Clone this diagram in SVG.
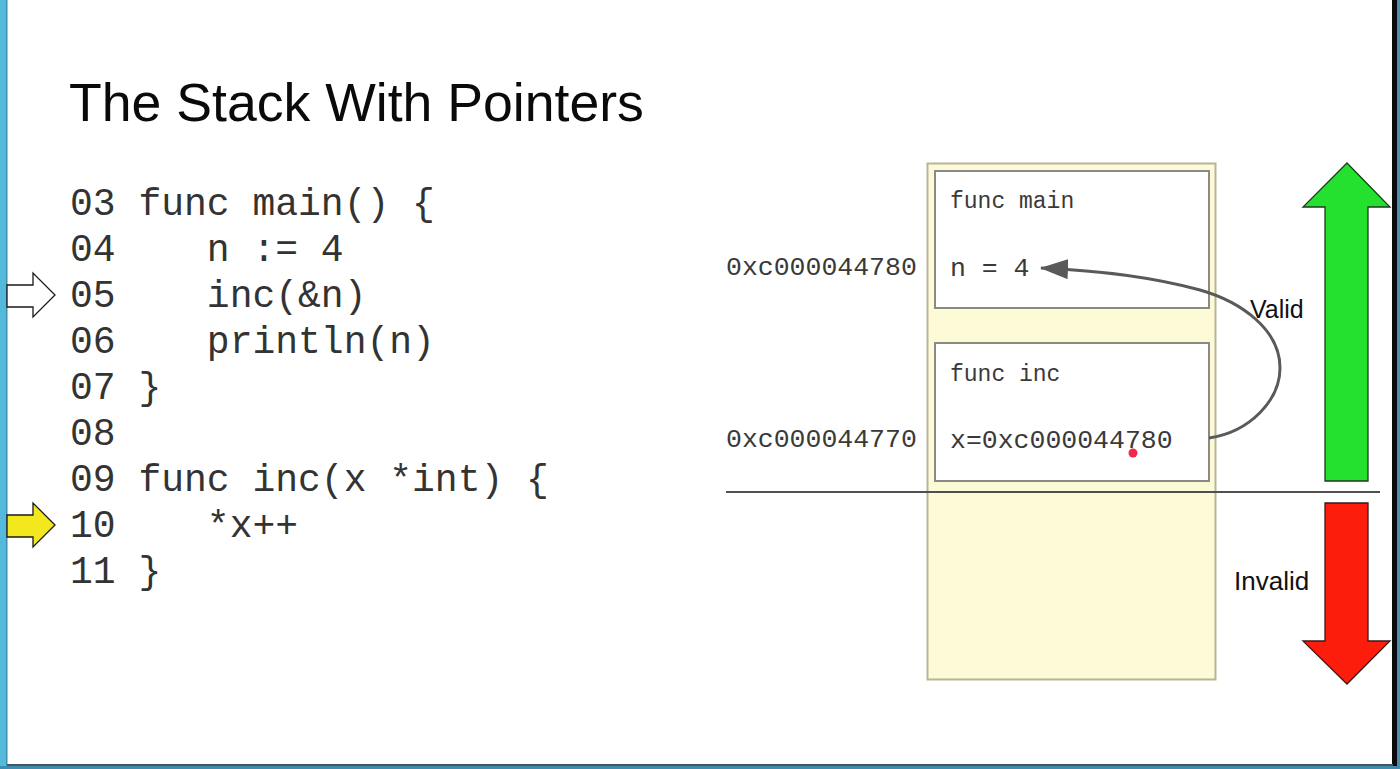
<svg xmlns="http://www.w3.org/2000/svg" width="1400" height="769" viewBox="0 0 1400 769">
<defs>
<style>
.title{font-family:"Liberation Sans",Arial,sans-serif;font-size:53.6px;fill:#0a0a0a}
.code{font-family:"Liberation Mono","Courier New",monospace;font-size:38px;fill:#333333;white-space:pre}
.hdr{font-family:"Liberation Mono","Courier New",monospace;font-size:23px;fill:#3a3a3a}
.val{font-family:"Liberation Mono","Courier New",monospace;font-size:26.5px;fill:#3a3a3a;white-space:pre}
.lbl{font-family:"Liberation Sans",Arial,sans-serif;fill:#111}
.frame{fill:#ffffff;stroke:#8a8a80;stroke-width:2}
.ptr{stroke:#1a1a1a;stroke-width:1.3}
</style>
<marker id="ah" markerUnits="userSpaceOnUse" markerWidth="30" markerHeight="22" refX="27" refY="10" orient="auto">
<path d="M0,0 L28,10 L0,20 Z" fill="#5a5a5a"/>
</marker>
</defs>
<rect x="0" y="0" width="1400" height="769" fill="#ffffff"/>
<rect x="0" y="0" width="7" height="769" fill="#55b9dc"/>
<rect x="6" y="0" width="1.5" height="769" fill="#3d8fb0"/>
<rect x="1392" y="0" width="5" height="769" fill="#0a0a0a"/>
<rect x="1397" y="0" width="3" height="769" fill="#4a90aa"/>
<rect x="7" y="764" width="1386" height="2" fill="#4a5560"/>
<rect x="0" y="766" width="1400" height="3" fill="#3e8db0"/>

<g id="title"><text class="title" x="69" y="121">The Stack With Pointers</text></g>

<g id="code">
<text class="code" x="70" y="215" xml:space="preserve">03 func main() {</text>
<text class="code" x="70" y="261" xml:space="preserve">04    n := 4</text>
<text class="code" x="70" y="307" xml:space="preserve">05    inc(&amp;n)</text>
<text class="code" x="70" y="353" xml:space="preserve">06    println(n)</text>
<text class="code" x="70" y="399" xml:space="preserve">07 }</text>
<text class="code" x="70" y="445" xml:space="preserve">08</text>
<text class="code" x="70" y="491" xml:space="preserve">09 func inc(x *int) {</text>
<text class="code" x="70" y="537" xml:space="preserve">10    *x++</text>
<text class="code" x="70" y="583" xml:space="preserve">11 }</text>
</g>

<g id="ptr-prev"><polygon class="ptr" fill="#ffffff" points="7,285 33,285 33,273 55,295 33,317 33,307 7,307"/></g>
<g id="ptr-current"><polygon class="ptr" fill="#f3e81e" points="7,515 33,515 33,503 55,525 33,547 33,537 7,537"/></g>

<g id="stack"><rect x="927.5" y="163.5" width="288" height="516" fill="#fdfad8" stroke="#b9b495" stroke-width="2"/></g>

<g id="frame-main">
<rect class="frame" x="935" y="171" width="274" height="137"/>
<text class="hdr" x="950" y="208">func main</text>
<text class="val" x="950" y="276" xml:space="preserve">n = 4</text>
</g>

<g id="frame-inc">
<rect class="frame" x="935" y="343" width="274" height="138"/>
<text class="hdr" x="950" y="381">func inc</text>
<text class="val" x="950" y="448">x=0xc000044780</text>
<circle cx="1133" cy="453" r="4.5" fill="#f0284a"/>
</g>

<g id="addresses">
<text class="val" x="726" y="275">0xc000044780</text>
<text class="val" x="726" y="447">0xc000044770</text>
</g>

<g id="boundary"><line x1="726" y1="492" x2="1380" y2="492" stroke="#4f4f4f" stroke-width="2"/></g>

<g id="valid">
<polygon points="1347,163 1390,207 1368,207 1368,481 1325,481 1325,207 1303,207" fill="#24e02f" stroke="#1f3a1f" stroke-width="1.3"/>
<text class="lbl" x="1250" y="318" font-size="25">Valid</text>
</g>

<g id="invalid">
<polygon points="1325,503 1368,503 1368,641 1390,641 1347,684 1303,641 1325,641" fill="#fd1d0d" stroke="#3a1a1a" stroke-width="1.3"/>
<text class="lbl" x="1234" y="590" font-size="26">Invalid</text>
</g>

<g id="connectors">
<path d="M1209,438 C1250,432 1280,400 1280,368 C1280,330 1242,302 1200,290 C1160,279 1110,271 1041,268" fill="none" stroke="#5a5a5a" stroke-width="3" marker-end="url(#ah)"/>
</g>
</svg>
